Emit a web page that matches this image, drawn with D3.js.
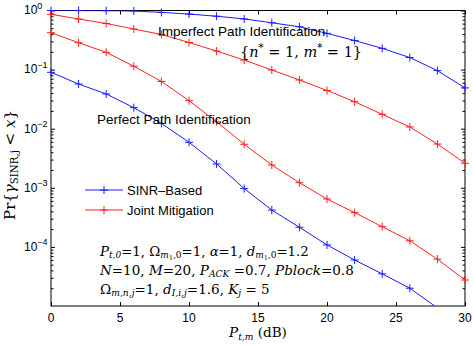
<!DOCTYPE html>
<html><head><meta charset="utf-8">
<script src="https://cdn.jsdelivr.net/npm/d3@7"></script>
<style>body{margin:0;background:#fff}</style>
</head><body><svg id="c" width="474" height="345"></svg>
<script>
// Transmit power grid (dB)
const ptm = [0, 2, 4, 6, 8, 10, 12, 14, 16, 18, 20, 22, 24, 26, 28, 30];
// Outage probability curves
const sinrImperfect  = [0.999, 0.997, 0.993, 0.98, 0.93, 0.87, 0.80, 0.72, 0.62, 0.53, 0.41, 0.31, 0.229, 0.16, 0.096, 0.049];
const jointImperfect = [0.862, 0.718, 0.603, 0.486, 0.393, 0.287, 0.206, 0.145, 0.0985, 0.0667, 0.0443, 0.0286, 0.0175, 0.0107, 0.0055, 0.0026];
const jointPerfect   = [0.421, 0.285, 0.196, 0.114, 0.063, 0.0298, 0.0131, 0.00545, 0.00243, 0.00122, 0.000646, 0.00038, 0.00022, 0.000127, 6.2e-5, 2.75e-5];
const sinrPerfect    = [0.090, 0.057, 0.0387, 0.0227, 0.0123, 0.00589, 0.00253, 0.00097, 0.00042, 0.000215, 0.000108, 6.0e-5, 3.5e-5, 2.0e-5, 9.3e-6, 4.3e-6];
const xTicks = [0, 5, 10, 15, 20, 25, 30];
const yExponents = [0, -1, -2, -3, -4];
const legendLabels = ["SINR\u2013Based", "Joint Mitigation"];

const BLUE = "#1a1aff", RED = "#ff2020";
const svg = d3.select("#c");
const L = 51, R = 465, T = 10.5, B = 306;
const x = d3.scaleLinear().domain([0, 30]).range([L, R]);
const y = d3.scaleLog().domain([1e-5, 1]).range([B, T]);
const sans = "'Liberation Sans', Arial, Helvetica, sans-serif";
const serif = "'DejaVu Serif', 'Liberation Serif', serif";

svg.append("defs").append("clipPath").attr("id", "plot")
  .append("rect").attr("x", L).attr("y", T).attr("width", R - L).attr("height", B - T);

// ----- axes (inward ticks on all four sides) -----
const majorY = yExponents.map(e => Math.pow(10, e));
const minorY = [];
[-5, -4, -3, -2, -1].forEach(e => { for (let k = 2; k <= 9; k++) minorY.push(k * Math.pow(10, e)); });

function styleAxis(g) {
  g.select(".domain").remove();
  g.selectAll("line").attr("stroke", "#000").attr("stroke-width", 1);
  g.selectAll("text").remove();
}
svg.append("g").attr("transform", `translate(0,${B})`)
  .call(d3.axisBottom(x).tickValues(xTicks).tickSizeInner(-4).tickSizeOuter(0)).call(styleAxis);
svg.append("g").attr("transform", `translate(0,${T})`)
  .call(d3.axisTop(x).tickValues(xTicks).tickSizeInner(-4).tickSizeOuter(0)).call(styleAxis);
svg.append("g").attr("transform", `translate(${L},0)`)
  .call(d3.axisLeft(y).tickValues(majorY).tickSizeInner(-4).tickSizeOuter(0)).call(styleAxis);
svg.append("g").attr("transform", `translate(${R},0)`)
  .call(d3.axisRight(y).tickValues(majorY).tickSizeInner(-4).tickSizeOuter(0)).call(styleAxis);
svg.append("g").attr("transform", `translate(${L},0)`)
  .call(d3.axisLeft(y).tickValues(minorY).tickSizeInner(-2.5).tickSizeOuter(0)).call(styleAxis);
svg.append("g").attr("transform", `translate(${R},0)`)
  .call(d3.axisRight(y).tickValues(minorY).tickSizeInner(-2.5).tickSizeOuter(0)).call(styleAxis);

svg.append("rect").attr("x", L).attr("y", T).attr("width", R - L).attr("height", B - T)
  .attr("fill", "none").attr("stroke", "#000").attr("stroke-width", 1);

// tick labels
svg.append("g").selectAll("text").data(xTicks).join("text")
  .attr("x", d => x(d)).attr("y", 321.5).attr("text-anchor", "middle")
  .attr("font-family", sans).attr("font-size", 12).text(d => d);

const yl = svg.append("g").selectAll("text").data(yExponents).join("text")
  .attr("x", 24).attr("y", d => y(Math.pow(10, d)) + 3.8)
  .attr("font-family", sans).attr("font-size", 12);
yl.append("tspan").text("10");
yl.append("tspan").attr("dy", -5.5).attr("font-size", 9)
  .text(d => d === 0 ? "0" : "\u2212" + Math.abs(d));

// ----- series -----
const series = [
  { v: sinrImperfect, c: BLUE },
  { v: jointImperfect, c: RED },
  { v: jointPerfect, c: RED },
  { v: sinrPerfect, c: BLUE }
];
const line = d3.line().x((d, i) => x(ptm[i])).y(d => y(d));
const plus = s => `M${-s},0H${s}M0,${-s}V${s}`;
series.forEach(s => {
  svg.append("path").datum(s.v).attr("d", line).attr("fill", "none")
    .attr("stroke", s.c).attr("stroke-width", 1).attr("clip-path", "url(#plot)");
  svg.append("g").selectAll("path")
    .data(s.v.map((v, i) => [ptm[i], v]).filter(p => p[1] >= 1e-5))
    .join("path").attr("transform", p => `translate(${x(p[0])},${y(p[1])})`)
    .attr("d", plus(4)).attr("stroke", s.c).attr("stroke-width", 1).attr("fill", "none");
});

// ----- legend -----
const legColors = [BLUE, RED];
legendLabels.forEach((lab, i) => {
  const ly = 190 + i * 20;
  svg.append("line").attr("x1", 85).attr("x2", 123).attr("y1", ly).attr("y2", ly)
    .attr("stroke", legColors[i]).attr("stroke-width", 1);
  svg.append("path").attr("transform", `translate(104,${ly})`).attr("d", plus(4))
    .attr("stroke", legColors[i]).attr("fill", "none");
  svg.append("text").attr("x", 127).attr("y", ly + 4.5).attr("font-family", sans)
    .attr("font-size", 13).text(lab);
});

// ----- text helpers for math-style labels -----
function math(parent, px, py, size, segs, anchor) {
  const t = parent.append("text").attr("x", px).attr("y", py)
    .attr("font-family", serif).attr("font-size", size)
    .attr("text-anchor", anchor || "start");
  let shift = 0;
  segs.forEach(([txt, f]) => {
    f = f || "";
    let target = 0, fs = size;
    if (f.includes("ss")) { target = size * 0.32; fs = size * 0.48; }
    else if (f.includes("s")) { target = size * 0.2; fs = size * 0.68; }
    else if (f.includes("u")) { target = -size * 0.4; fs = size * 0.7; }
    const ts = t.append("tspan").attr("dy", target - shift).attr("font-size", fs).text(txt);
    shift = target;
    if (f.includes("i")) ts.attr("font-style", "italic");
  });
  return t;
}

svg.append("text").attr("x", 158).attr("y", 36).attr("font-family", sans)
  .attr("font-size", 13.5).text("Imperfect Path Identification");
svg.append("text").attr("x", 97).attr("y", 123.5).attr("font-family", sans)
  .attr("font-size", 13.5).text("Perfect Path Identification");

math(svg, 240, 57, 14.5, [["{"], ["n", "i"], ["*", "u"], [" = 1, "], ["m", "i"], ["*", "u"], [" = 1}"]]);

math(svg, 100, 255.5, 13.3, [["P", "i"], ["t,0", "si"], ["=1, "], ["\u03A9"], ["m", "si"], ["1", "ss"], [",0", "s"],
  ["=1, "], ["\u03B1", "i"], ["=1, "], ["d", "i"], ["m", "si"], ["1", "ss"], [",0", "s"], ["=1.2"]]);
math(svg, 100, 274.5, 13.5, [["N", "i"], ["=10, "], ["M", "i"], ["=20, "], ["P", "i"], ["ACK", "si"], [" =0.7, "],
  ["Pblock", "i"], ["=0.8"]]);
math(svg, 100, 293.5, 13.5, [["\u03A9"], ["m,n,j", "si"], ["=1, "], ["d", "i"], ["I,i,j", "si"], ["=1.6, "],
  ["K", "i"], ["j", "si"], [" = 5"]]);

// axis titles
math(svg, 258, 337, 13.5, [["P", "i"], ["t,m", "si"], [" (dB)"]], "middle");
math(svg.append("g").attr("transform", "translate(15,165) rotate(-90)"), 0, 0, 15,
  [["Pr"], ["{"], ["\u03B3", "i"], ["SINR,j", "s"], [" < "], ["x", "i"], ["}"]], "middle");
</script></body></html>
